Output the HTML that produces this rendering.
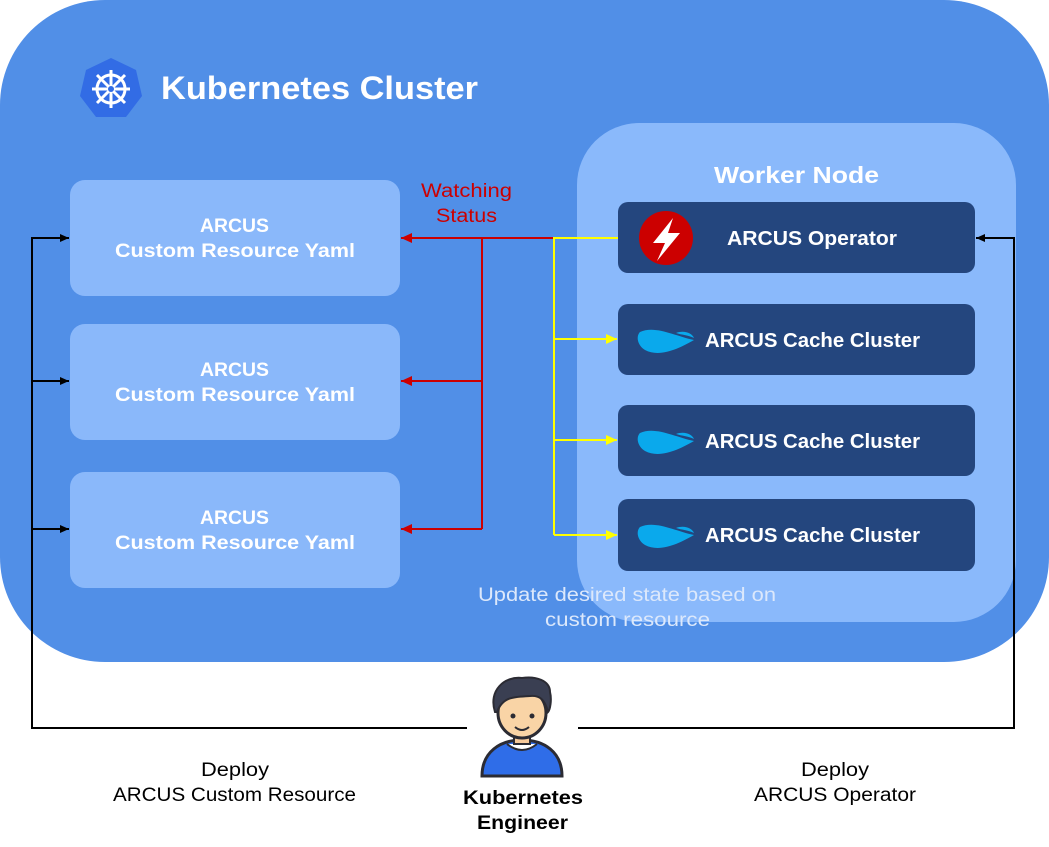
<!DOCTYPE html>
<html><head><meta charset="utf-8"><style>
html,body{margin:0;padding:0;background:#fff;}
svg{display:block;font-family:"Liberation Sans",sans-serif;}
</style></head><body>
<svg width="1049" height="847" viewBox="0 0 1049 847" xmlns="http://www.w3.org/2000/svg">
<defs>
<marker id="ab" markerWidth="10" markerHeight="10" refX="9" refY="5" orient="auto" markerUnits="userSpaceOnUse"><path d="M0,1 L9,5 L0,9 Z" fill="#000"/></marker>
<marker id="ar" markerWidth="12" markerHeight="12" refX="11" refY="6" orient="auto" markerUnits="userSpaceOnUse"><path d="M0,1 L11,6 L0,11 Z" fill="#c00"/></marker>
<marker id="ay" markerWidth="12" markerHeight="12" refX="11" refY="6" orient="auto" markerUnits="userSpaceOnUse"><path d="M0,1 L11,6 L0,11 Z" fill="#ff0"/></marker>
</defs>
<rect x="0" y="0" width="1049" height="662" rx="105" fill="#518fe7"/>
<rect x="577" y="123" width="439" height="499" rx="62" fill="#8ab9fb"/>
<polygon points="111,58 136,70 142,96 126,117 96,117 80,96 86,70" fill="#326ce5"/>
<g stroke="#fff" stroke-width="3" fill="none">
<circle cx="111" cy="89" r="14"/>
<line x1="111" y1="70" x2="111" y2="108"/><line x1="92" y1="89" x2="130" y2="89"/>
<line x1="97" y1="75" x2="125" y2="103"/><line x1="125" y1="75" x2="97" y2="103"/>
</g>
<circle cx="111" cy="89" r="3" fill="#326ce5"/>
<text x="161" y="99" font-size="32" font-weight="bold" fill="#fff" textLength="317" lengthAdjust="spacingAndGlyphs">Kubernetes Cluster</text>
<text x="714" y="183" font-size="23" font-weight="bold" fill="#fff" textLength="165" lengthAdjust="spacingAndGlyphs">Worker Node</text>
<g fill="#8ab8fa">
<rect x="70" y="180" width="330" height="116" rx="15"/>
<rect x="70" y="324" width="330" height="116" rx="15"/>
<rect x="70" y="472" width="330" height="116" rx="15"/>
</g>
<g fill="#fff" font-size="19" font-weight="bold">
<text x="200" y="232" textLength="69" lengthAdjust="spacingAndGlyphs">ARCUS</text><text x="115" y="257" textLength="240" lengthAdjust="spacingAndGlyphs">Custom Resource Yaml</text>
<text x="200" y="376" textLength="69" lengthAdjust="spacingAndGlyphs">ARCUS</text><text x="115" y="401" textLength="240" lengthAdjust="spacingAndGlyphs">Custom Resource Yaml</text>
<text x="200" y="524" textLength="69" lengthAdjust="spacingAndGlyphs">ARCUS</text><text x="115" y="549" textLength="240" lengthAdjust="spacingAndGlyphs">Custom Resource Yaml</text>
</g>
<g fill="#24467e">
<rect x="618" y="202" width="357" height="71" rx="10"/>
<rect x="618" y="304" width="357" height="71" rx="10"/>
<rect x="618" y="405" width="357" height="71" rx="10"/>
<rect x="618" y="499" width="357" height="72" rx="10"/>
</g>
<circle cx="666" cy="238" r="27" fill="#c00"/>
<path d="M673,218 L653,243 L665,243 L657,261 L680,233 L668,233 Z" fill="#fff"/>
<text x="727" y="245" font-size="20" font-weight="bold" fill="#fff" textLength="170" lengthAdjust="spacingAndGlyphs">ARCUS Operator</text>
<g fill="#0aa9ec">
<path id="w" d="M640,332 C655,325 675,336 694,340 C680,348 660,358 645,350 C637,345 636,336 640,332 Z M676,333 C684,330 692,333 694,338 C688,335 682,335 676,333 Z"/>
<use href="#w" y="101"/><use href="#w" y="195"/>
</g>
<g fill="#fff" font-size="20" font-weight="bold">
<text x="705" y="347" textLength="215" lengthAdjust="spacingAndGlyphs">ARCUS Cache Cluster</text>
<text x="705" y="448" textLength="215" lengthAdjust="spacingAndGlyphs">ARCUS Cache Cluster</text>
<text x="705" y="542" textLength="215" lengthAdjust="spacingAndGlyphs">ARCUS Cache Cluster</text>
</g>
<text x="421" y="197" font-size="19" fill="#c00" textLength="91" lengthAdjust="spacingAndGlyphs">Watching</text>
<text x="436" y="222" font-size="19" fill="#c00" textLength="61" lengthAdjust="spacingAndGlyphs">Status</text>
<g stroke="#c00" stroke-width="2" fill="none">
<line x1="553" y1="238" x2="401" y2="238" marker-end="url(#ar)"/>
<line x1="482" y1="238" x2="482" y2="529"/>
<line x1="482" y1="381" x2="401" y2="381" marker-end="url(#ar)"/>
<line x1="482" y1="529" x2="401" y2="529" marker-end="url(#ar)"/>
</g>
<g stroke="#ff0" stroke-width="2" fill="none">
<polyline points="618,238 554,238 554,535"/>
<line x1="554" y1="339" x2="617" y2="339" marker-end="url(#ay)"/>
<line x1="554" y1="440" x2="617" y2="440" marker-end="url(#ay)"/>
<line x1="554" y1="535" x2="617" y2="535" marker-end="url(#ay)"/>
</g>
<text x="478" y="601" font-size="19" fill="#dce8fb" textLength="298" lengthAdjust="spacingAndGlyphs">Update desired state based on</text>
<text x="545" y="626" font-size="19" fill="#dce8fb" textLength="165" lengthAdjust="spacingAndGlyphs">custom resource</text>
<g stroke="#000" stroke-width="2" fill="none">
<polyline points="467,728 32,728 32,238 69,238" marker-end="url(#ab)"/>
<line x1="32" y1="381" x2="69" y2="381" marker-end="url(#ab)"/>
<line x1="32" y1="529" x2="69" y2="529" marker-end="url(#ab)"/>
<polyline points="578,728 1014,728 1014,238 976,238" marker-end="url(#ab)"/>
</g>
<path d="M482,776 C482,752 500,740 522,740 C544,740 562,752 562,776 Z" fill="#2f6de8" stroke="#2b2b33" stroke-width="3"/>
<path d="M507,744 Q522,756 537,744" fill="#fff" stroke="#2b2b33" stroke-width="2"/>
<rect x="514" y="728" width="16" height="16" fill="#f6c99a" stroke="#2b2b33" stroke-width="2"/>
<ellipse cx="522" cy="713" rx="24" ry="25" fill="#f9d4a6" stroke="#2b2b33" stroke-width="3"/>
<path d="M495,712 C488,690 505,676 522,678 C535,676 550,680 550,692 C552,700 550,710 548,712 C545,700 540,695 530,696 C515,697 503,696 497,712 Z" fill="#3a3f52" stroke="#2b2b33" stroke-width="2"/>
<circle cx="513" cy="716" r="2.5" fill="#2b2b33"/><circle cx="532" cy="716" r="2.5" fill="#2b2b33"/>
<path d="M515,727 Q522,733 529,727" stroke="#2b2b33" stroke-width="2" fill="none"/>
<text x="463" y="804" font-size="19" font-weight="bold" fill="#000" textLength="120" lengthAdjust="spacingAndGlyphs">Kubernetes</text>
<text x="477" y="829" font-size="19" font-weight="bold" fill="#000" textLength="91" lengthAdjust="spacingAndGlyphs">Engineer</text>
<g font-size="19" fill="#000">
<text x="201" y="776" textLength="68" lengthAdjust="spacingAndGlyphs">Deploy</text><text x="113" y="801" textLength="243" lengthAdjust="spacingAndGlyphs">ARCUS Custom Resource</text>
<text x="801" y="776" textLength="68" lengthAdjust="spacingAndGlyphs">Deploy</text><text x="754" y="801" textLength="162" lengthAdjust="spacingAndGlyphs">ARCUS Operator</text>
</g>
</svg>
</body></html>
